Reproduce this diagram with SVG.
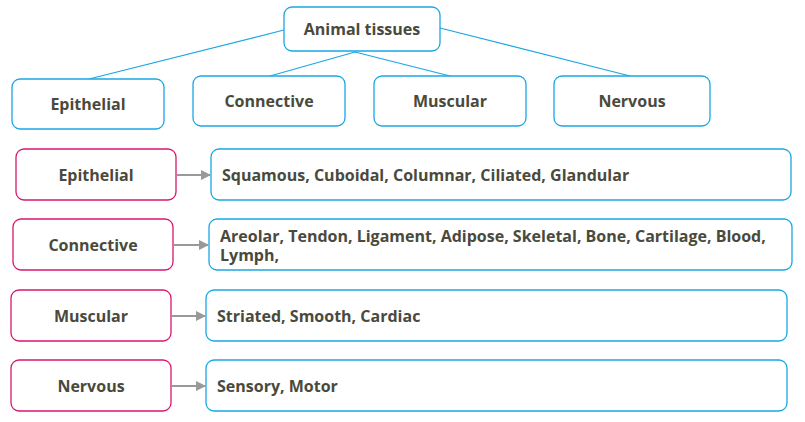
<svg xmlns="http://www.w3.org/2000/svg" width="805" height="422" viewBox="0 0 805 422">
<defs>
<style>
.b{fill:#fff;stroke:#1aa7e4;stroke-width:1.3}
.p{fill:#fff;stroke:#d8176f;stroke-width:1.3}
text{font-family:"Open Sans","Noto Sans",sans-serif;font-weight:bold;font-size:16px;fill:#4a4a3c}
.c{text-anchor:middle}
.l{stroke:#1aa7e4;stroke-width:1.2;fill:none}
.a{stroke:#999;stroke-width:2;fill:none;marker-end:url(#ar)}
</style>
<marker id="ar" markerWidth="10" markerHeight="10" refX="9" refY="5" orient="auto" markerUnits="userSpaceOnUse"><path d="M0,0L10,5L0,10z" fill="#999"/></marker>
</defs>
<g id="connectors">
<path class="l" d="M284,30L89,79M355,52L270,76M355,52L450,76M440,28L630,76"/>
<path class="a" d="M177,175H210"/>
<path class="a" d="M174,245H208"/>
<path class="a" d="M172,316H205"/>
<path class="a" d="M172,386H205"/>
</g>
<g id="root"><rect class="b" x="284" y="7" width="156" height="44" rx="8"/><text class="c" x="362" y="35">Animal tissues</text></g>
<g id="t1"><rect class="b" x="12" y="79" width="152" height="50" rx="8"/><text class="c" x="88" y="110">Epithelial</text></g>
<g id="t2"><rect class="b" x="193" y="76" width="152" height="50" rx="8"/><text class="c" x="269" y="107">Connective</text></g>
<g id="t3"><rect class="b" x="374" y="76" width="152" height="50" rx="8"/><text class="c" x="450" y="107">Muscular</text></g>
<g id="t4"><rect class="b" x="554" y="76" width="156" height="50" rx="8"/><text class="c" x="632" y="107">Nervous</text></g>
<g id="r1"><rect class="p" x="16" y="149" width="160" height="51" rx="8"/><text class="c" x="96" y="181">Epithelial</text></g>
<g id="d1"><rect class="b" x="211" y="149" width="580" height="51" rx="8"/><text x="222" y="181">Squamous, Cuboidal, Columnar, Ciliated, Glandular</text></g>
<g id="r2"><rect class="p" x="13" y="219" width="160" height="51" rx="8"/><text class="c" x="93" y="251">Connective</text></g>
<g id="d2"><rect class="b" x="209" y="219" width="583" height="51" rx="8"/><text x="220" y="242">Areolar, Tendon, Ligament, Adipose, Skeletal, Bone, Cartilage, Blood,<tspan x="220" dy="19">Lymph,</tspan></text></g>
<g id="r3"><rect class="p" x="11" y="290" width="160" height="51" rx="8"/><text class="c" x="91" y="322">Muscular</text></g>
<g id="d3"><rect class="b" x="206" y="290" width="581" height="51" rx="8"/><text x="217" y="322">Striated, Smooth, Cardiac</text></g>
<g id="r4"><rect class="p" x="11" y="360" width="160" height="51" rx="8"/><text class="c" x="91" y="392">Nervous</text></g>
<g id="d4"><rect class="b" x="206" y="360" width="581" height="51" rx="8"/><text x="217" y="392">Sensory, Motor</text></g>
</svg>
